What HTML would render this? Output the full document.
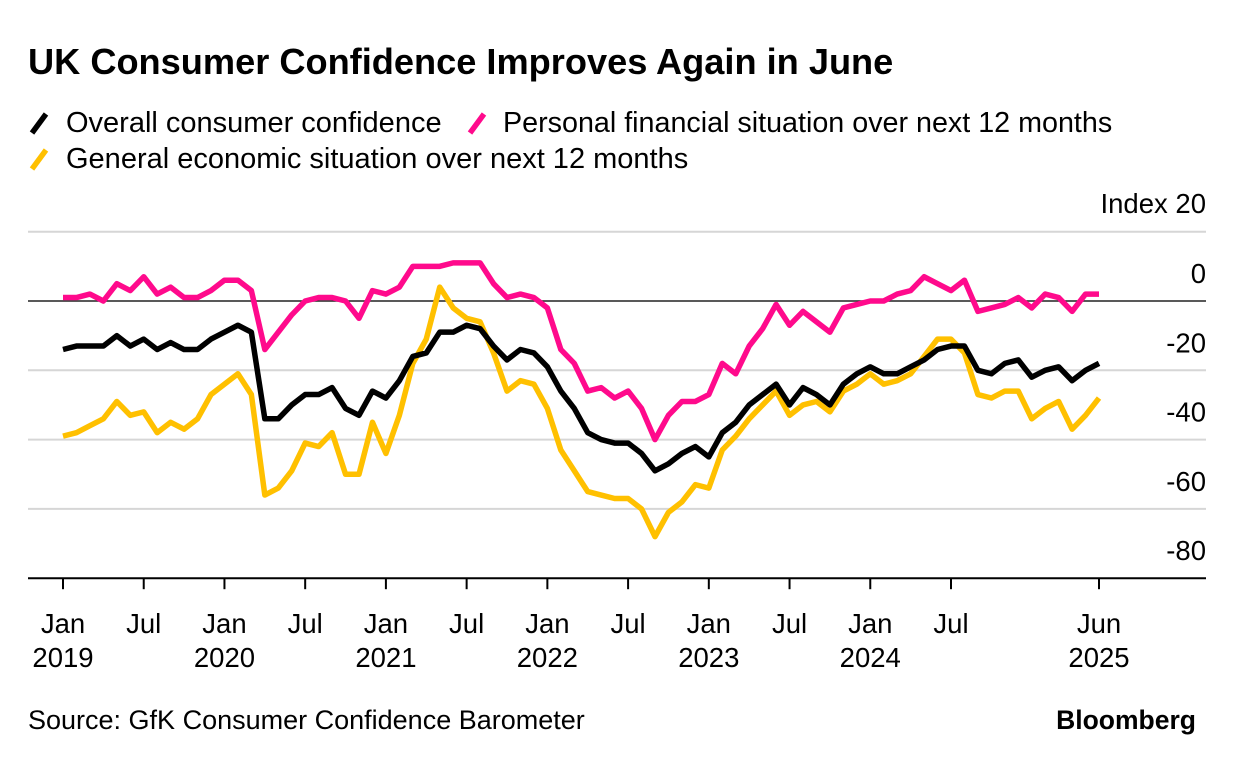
<!DOCTYPE html>
<html><head><meta charset="utf-8"><style>
body{margin:0;background:#fff;font-family:"Liberation Sans",sans-serif;}
</style></head><body>
<svg width="1236" height="762" xmlns="http://www.w3.org/2000/svg" font-family="Liberation Sans, sans-serif">
<text x="28" y="74" font-size="36.2" font-weight="bold" fill="#000">UK Consumer Confidence Improves Again in June</text>
<g>
<g><line x1="32" y1="133" x2="46" y2="114" stroke="#000" stroke-width="5.5"/><text x="66" y="132" font-size="29">Overall consumer confidence</text></g>
<g><line x1="470" y1="133" x2="484" y2="114" stroke="#ff0a8c" stroke-width="5.5"/><text x="503" y="132" font-size="28.7">Personal financial situation over next 12 months</text></g>
<g><line x1="32" y1="169" x2="46" y2="150" stroke="#ffc000" stroke-width="5.5"/><text x="66" y="168" font-size="29">General economic situation over next 12 months</text></g>
</g>
<text x="1206" y="213" font-size="27.5" text-anchor="end">Index 20</text>
<g id="grid"></g>
<g id="ylabels"></g>
<g id="xaxis"></g>
<g id="series"></g>
<text x="28" y="729" font-size="27">Source: GfK Consumer Confidence Barometer</text>
<text x="1196" y="729" font-size="26.5" font-weight="bold" text-anchor="end">Bloomberg</text>
</svg>
<script>
const overall=[-14,-13,-13,-13,-10,-13,-11,-14,-12,-14,-14,-11,-9,-7,-9,-34,-34,-30,-27,-27,-25,-31,-33,-26,-28,-23,-16,-15,-9,-9,-7,-8,-13,-17,-14,-15,-19,-26,-31,-38,-40,-41,-41,-44,-49,-47,-44,-42,-45,-38,-35,-30,-27,-24,-30,-25,-27,-30,-24,-21,-19,-21,-21,-19,-17,-14,-13,-13,-20,-21,-18,-17,-22,-20,-19,-23,-20,-18];
const personal=[1,1,2,0,5,3,7,2,4,1,1,3,6,6,3,-14,-9,-4,0,1,1,0,-5,3,2,4,10,10,10,11,11,11,5,1,2,1,-2,-14,-18,-26,-25,-28,-26,-31,-40,-33,-29,-29,-27,-18,-21,-13,-8,-1,-7,-3,-6,-9,-2,-1,0,0,2,3,7,5,3,6,-3,-2,-1,1,-2,2,1,-3,2,2];
const general=[-39,-38,-36,-34,-29,-33,-32,-38,-35,-37,-34,-27,-24,-21,-27,-56,-54,-49,-41,-42,-38,-50,-50,-35,-44,-33,-18,-11,4,-2,-5,-6,-15,-26,-23,-24,-31,-43,-49,-55,-56,-57,-57,-60,-68,-61,-58,-53,-54,-43,-39,-34,-30,-26,-33,-30,-29,-32,-26,-24,-21,-24,-23,-21,-16,-11,-11,-15,-27,-28,-26,-26,-34,-31,-29,-37,-33,-28];
const yTicks=[20,0,-20,-40,-60,-80];
const xTickMonths=[0,6,12,18,24,30,36,42,48,54,60,66,77];
const xTickTop=["Jan","Jul","Jan","Jul","Jan","Jul","Jan","Jul","Jan","Jul","Jan","Jul","Jun"];
const xTickBottom=["2019","","2020","","2021","","2022","","2023","","2024","","2025"];
const NS="http://www.w3.org/2000/svg";
const X=m=>63+m*(1099-63)/77;
const Y=v=>301-v*3.465;
function mk(t,a,p){const e=document.createElementNS(NS,t);for(const k in a)e.setAttribute(k,a[k]);p.appendChild(e);return e;}
const grid=document.getElementById('grid'),yl=document.getElementById('ylabels'),xa=document.getElementById('xaxis'),se=document.getElementById('series');
yTicks.forEach(v=>{
  if(v!==-80){
  const l=mk('line',{x1:28,x2:1206,y1:Y(v),y2:Y(v),stroke:v===0?'#222':'#d6d6d6','stroke-width':v===0?1.5:2},grid);
  
  
  }
  if(v===20)return;
  const t=mk('text',{x:1206,y:Y(v)-18,'font-size':27.5,'text-anchor':'end'},yl);t.textContent=String(v);
  
  
});
const ax=mk('line',{x1:28,x2:1206,y1:Y(-80),y2:Y(-80),stroke:'#000','stroke-width':2},xa);


xTickMonths.forEach((m,i)=>{
  const x=X(m);
  const tk=mk('line',{x1:x,x2:x,y1:Y(-80),y2:Y(-80)+11,stroke:'#000','stroke-width':2},xa);
  
  
  const t=mk('text',{x:x,y:633,'font-size':27.5,'text-anchor':'middle'},xa);t.textContent=xTickTop[i];
  
  
  if(xTickBottom[i]){const b=mk('text',{x:x,y:667,'font-size':27.5,'text-anchor':'middle'},xa);b.textContent=xTickBottom[i];
  
  }
});
function line(data,color,name){
  const p=mk('polyline',{points:data.map((v,i)=>X(i)+','+Y(v)).join(' '),fill:'none',stroke:color,'stroke-width':5.5,'stroke-linejoin':'round'},se);
  
  
}
line(general,'#ffc000','series-general-economic');
line(personal,'#ff0a8c','series-personal-financial');
line(overall,'#000','series-overall-confidence');
</script>
</body></html>
